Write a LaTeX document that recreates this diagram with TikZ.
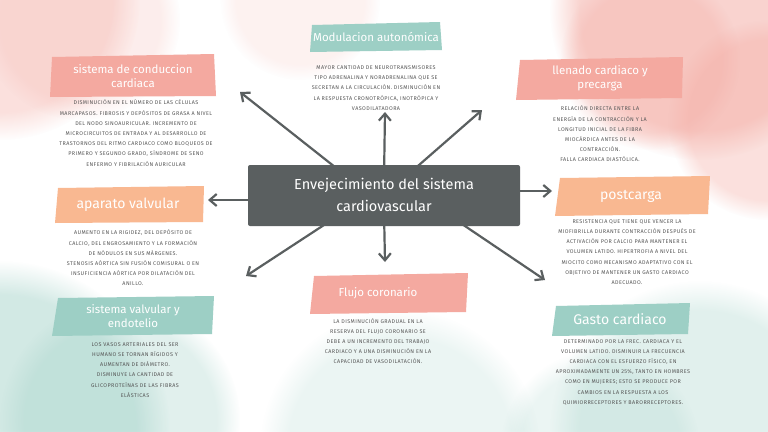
\documentclass[tikz,border=0pt]{standalone}
\usepackage{fontspec}
\setmainfont{Fira Sans}
\newfontfamily\bodyf[LetterSpace=8]{Fira Sans}
\usetikzlibrary{arrows.meta,fadings}
\definecolor{pk}{HTML}{F4A9A0}
\definecolor{tl}{HTML}{9DCFC5}
\definecolor{orf}{HTML}{F9B891}
\definecolor{gr}{HTML}{5A5F60}
\definecolor{tx}{HTML}{555555}
\tikzset{
 x=1pt,y=-1pt,
 ttl/.style={text=white,font=\fontsize{11.5}{14}\selectfont,align=center,inner sep=0pt},
 bd/.style={text=tx,font=\bodyf\fontsize{5.4}{10.2}\selectfont,align=center,inner sep=0pt},
 arr/.style={draw=gr,line width=2.2pt,-{Straight Barb[length=7pt,width=12pt]}},
 blob/.style={path fading=circle with fuzzy edge 20 percent}
}
\begin{document}
\begin{tikzpicture}
\useasboundingbox (0,0) rectangle (768,431);
\fill[white] (0,0) rectangle (768,431);
% watercolor background
\foreach \x/\y/\r/\o in {0/0/140/0.35,80/20/100/0.2,700/10/150/0.5,650/60/90/0.3,768/120/100/0.35,300/0/80/0.15}{\fill[pk,opacity=\o,blob] (\x,\y) circle (\r);}
\foreach \x/\y/\r/\o in {0/431/170/0.45,120/420/120/0.3,400/450/140/0.2,700/431/150/0.3,600/450/100/0.2}{\fill[tl,opacity=\o,blob] (\x,\y) circle (\r);}
% boxes
\fill[pk] (52,57) -- (214,54) -- (216,96) -- (50,97) -- cycle;
\node[ttl] (t1) at (133,76) {sistema de conduccion\\cardiaca};
\node[bd] (b1) at (136,133) {DISMINUCIÓN EN EL NÚMERO DE LAS CÉLULAS\\MARCAPASOS. FIBROSIS Y DEPÓSITOS DE GRASA A NIVEL\\DEL NODO SINOAURICULAR. INCREMENTO DE\\MICROCIRCUITOS DE ENTRADA Y AL DESARROLLO DE\\TRASTORNOS DEL RITMO CARDIACO COMO BLOQUEOS DE\\PRIMERO Y SEGUNDO GRADO, SÍNDROME DE SENO\\ENFERMO Y FIBRILACIÓN AURICULAR};
\fill[tl] (312,25) -- (440,22) -- (442,50) -- (310,52) -- cycle;
\node[ttl] (t2) at (376,37) {Modulacion autonómica};
\node[bd] (b2) at (376,88) {MAYOR CANTIDAD DE NEUROTRANSMISORES\\TIPO ADRENALINA Y NORADRENALINA QUE SE\\SECRETAN A LA CIRCULACIÓN. DISMINUCIÓN EN\\LA RESPUESTA CRONOTRÓPICA, INOTRÓPICA Y\\VASODILATADORA};
\fill[pk] (520,60) -- (683,57) -- (682,98) -- (516,100) -- cycle;
\node[ttl] (t3) at (600,78) {llenado cardiaco y\\precarga};
\node[bd] (b3) at (600,134) {RELACIÓN DIRECTA ENTRE LA\\ENERGÍA DE LA CONTRACCIÓN Y LA\\LONGITUD INICIAL DE LA FIBRA\\MIOCÁRDICA ANTES DE LA\\CONTRACCIÓN.\\FALLA CARDIACA DIASTÓLICA.};
\fill[gr,rounded corners=2pt] (248,165) rectangle (520,226);
\node[ttl,font=\fontsize{14.5}{22}\selectfont] (c) at (384,195) {Envejecimiento del sistema\\cardiovascular};
\fill[orf] (58,188) -- (204,186) -- (203,222) -- (55,223) -- cycle;
\node[ttl,font=\fontsize{14}{15}\selectfont] (t4) at (128,205) {aparato valvular};
\node[bd] (b4) at (133,258) {AUMENTO EN LA RIGIDEZ, DEL DEPÓSITO DE\\CALCIO, DEL ENGROSAMIENTO Y LA FORMACIÓN\\DE NÓDULOS EN SUS MÁRGENES.\\STENOSIS AÓRTICA SIN FUSIÓN COMISURAL O EN\\INSUFICIENCIA AÓRTICA POR DILATACIÓN DEL\\ANILLO.};
\fill[tl] (58,298) -- (214,296) -- (212,334) -- (52,336) -- cycle;
\node[ttl] (t5) at (133,316) {sistema valvular y\\endotelio};
\node[bd] (b5) at (135,370) {LOS VASOS ARTERIALES DEL SER\\HUMANO SE TORNAN RÍGIDOS Y\\AUMENTAN DE DIÁMETRO.\\DISMINUYE LA CANTIDAD DE\\GLICOPROTEÍNAS DE LAS FIBRAS\\ELÁSTICAS};
\fill[pk] (314,276) -- (468,273) -- (466,312) -- (310,314) -- cycle;
\node[ttl] (t6) at (378,293) {Flujo coronario};
\node[bd] (b6) at (378,341) {LA DISMINUCIÓN GRADUAL EN LA\\RESERVA DEL FLUJO CORONARIO SE\\DEBE A UN INCREMENTO DEL TRABAJO\\CARDIACO Y A UNA DISMINUCIÓN EN LA\\CAPACIDAD DE VASODILATACIÓN.};
\fill[orf] (560,178) -- (710,176) -- (708,214) -- (555,216) -- cycle;
\node[ttl,font=\fontsize{14}{15}\selectfont] (t7) at (631,196) {postcarga};
\node[bd] (b7) at (627,252) {RESISTENCIA QUE TIENE QUE VENCER LA\\MIOFIBRILLA DURANTE CONTRACCIÓN DESPUÉS DE\\ACTIVACIÓN POR CALCIO PARA MANTENER EL\\VOLUMEN LATIDO. HIPERTROFIA A NIVEL DEL\\MIOCITO COMO MECANISMO ADAPTATIVO CON EL\\OBJETIVO DE MANTENER UN GASTO CARDIACO\\ADECUADO.};
\fill[tl] (556,306) -- (690,303) -- (688,334) -- (552,336) -- cycle;
\node[ttl,font=\fontsize{14}{15}\selectfont] (t8) at (620,319) {Gasto cardiaco};
\node[bd] (b8) at (623,372) {DETERMINADO POR LA FREC. CARDIACA Y EL\\VOLUMEN LATIDO. DISMINUIR LA FRECUENCIA\\CARDIACA CON EL ESFUERZO FÍSICO, EN\\APROXIMADAMENTE UN 25\%, TANTO EN HOMBRES\\COMO EN MUJERES; ESTO SE PRODUCE POR\\CAMBIOS EN LA RESPUESTA A LOS\\QUIMIORRECEPTORES Y BARORRECEPTORES.};
% arrows
\coordinate (a1) at (240,92);
\coordinate (a2) at (385,112);
\coordinate (a3) at (482,110);
\coordinate (a4) at (552,191);
\coordinate (a5) at (208,200);
\coordinate (a6) at (246,276);
\coordinate (a7) at (385,262);
\coordinate (a8) at (545,280);
\draw[arr] (c.north west) ++(55,0) coordinate (s1) (s1) -- (a1);
\draw[arr] (c.north) coordinate (s2) (s2) -- (a2);
\draw[arr] (c.north east) ++(-70,0) coordinate (s3) (s3) -- (a3);
\draw[arr] (c.east) ++(0,-4) coordinate (s4) (s4) -- (a4);
\draw[arr] (c.west) ++(0,5) coordinate (s5) (s5) -- (a5);
\draw[arr] (c.south west) ++(50,0) coordinate (s6) (s6) -- (a6);
\draw[arr] (c.south) coordinate (s7) (s7) -- (a7);
\draw[arr] (c.south east) ++(-30,0) coordinate (s8) (s8) -- (a8);
\end{tikzpicture}
\end{document}
